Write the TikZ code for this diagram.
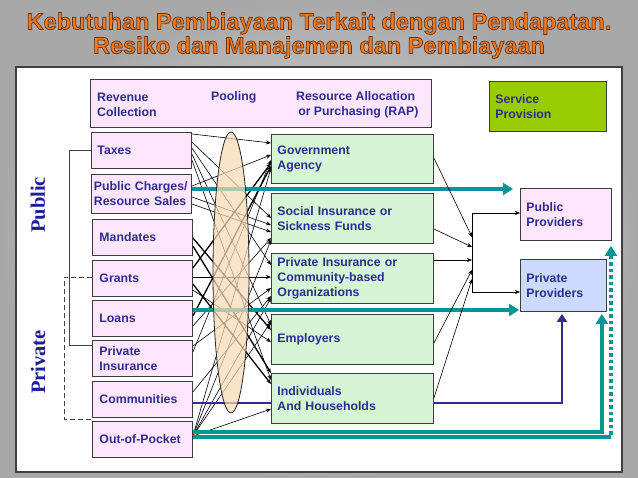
\documentclass[tikz,border=0pt]{standalone}
\usepackage{fontspec}
\setmainfont{Liberation Sans}
\newfontfamily\serifbold{Liberation Serif}
\usetikzlibrary{arrows.meta,calc}
\pgfdeclarelayer{bgzero}
\pgfdeclarelayer{background}
\pgfsetlayers{bgzero,background,main}
\definecolor{navytext}{RGB}{45,45,140}
\definecolor{labelblue}{RGB}{30,30,150}
\definecolor{pinkfill}{RGB}{255,230,255}
\definecolor{greenfill}{RGB}{214,245,214}
\definecolor{bluefill}{RGB}{204,218,255}
\definecolor{limefill}{RGB}{153,204,0}
\definecolor{tealline}{RGB}{0,150,150}
\definecolor{navyline}{RGB}{48,48,140}
\definecolor{beige}{RGB}{248,218,180}
\definecolor{titleorange}{RGB}{240,120,30}
\definecolor{boxline}{RGB}{60,60,60}
\newcommand\outlineon{\special{pdf:literal direct 0.42 0.2 0.06 RG 0.7 w 2 Tr}}
\newcommand\outlineoff{\special{pdf:literal direct 0 Tr}}
\begin{document}
\begin{tikzpicture}[x=1pt,y=-1pt,
  box/.style={draw=boxline, line width=0.9pt, anchor=north west, inner xsep=6pt, inner ysep=0pt,
    align=left, text=navytext, font=\bfseries\fontsize{12.3}{15}\selectfont},
  pbox/.style={box, fill=pinkfill, minimum width=100pt, minimum height=36pt, text width=88pt},
  gbox/.style={box, fill=greenfill, minimum width=162pt, minimum height=50pt, text width=150pt},
  hdrtext/.style={inner sep=0pt, anchor=west, align=left, text=navytext, font=\bfseries\fontsize{12.3}{15}\selectfont},
  link/.style={draw=black, line width=0.6pt, -{Stealth[length=5pt,width=4pt]}},
  thicklink/.style={link, line width=1.3pt},
  tealarrow/.style={draw=tealline, line width=3.5pt, -{Triangle[length=10pt,width=12pt]}},
  bracket/.style={draw=black!75, line width=0.8pt},
  sidelabel/.style={rotate=90, text=labelblue, font=\serifbold\bfseries\fontsize{20.5}{24}\selectfont},
  titlefont/.style={align=center, font=\bfseries\fontsize{23.5}{24}\selectfont}
]
\useasboundingbox (0,0) rectangle (638,478);

% background and panel
\begin{pgfonlayer}{bgzero}
  \shade[inner color=gray!22, outer color=gray!68] (0,0) rectangle (638,478);
  \draw[fill=white, draw=black!75, line width=1.2pt] (16,67) rectangle (622,472);
\end{pgfonlayer}

% title
\node[titlefont, text=titleorange] (title) at (319,35.5) {\outlineon Kebutuhan Pembiayaan Terkait dengan Pendapatan.\\Resiko dan Manajemen dan Pembiayaan\outlineoff};

% header
\node[box, fill=pinkfill, minimum width=341pt, minimum height=48pt] (H) at (90,79) {};
\node[hdrtext] (rc) at (97,104.5) {Revenue\\Collection};
\node[hdrtext] (pool) at (211,97) {Pooling};
\node[hdrtext] (rap) at (296,104.5) {Resource Allocation\\\,or Purchasing (RAP)};
\node[box, fill=limefill, minimum width=117pt, minimum height=50pt, text width=105pt] (SP) at (489,81) {Service\\Provision};

% left column
\node[pbox] (T) at (91,132) {Taxes};
\node[pbox, minimum height=39pt, inner xsep=2.5pt, text width=95pt] (PC) at (91,174) {Public Charges/\\Resource Sales};
\node[pbox, inner xsep=7pt, text width=86pt] (M) at (92,219) {Mandates};
\node[pbox, inner xsep=7pt, text width=86pt] (G) at (92,260) {Grants};
\node[pbox, inner xsep=7pt, text width=86pt] (L) at (92,300) {Loans};
\node[pbox, inner xsep=7pt, text width=86pt] (PI) at (92,340) {Private\\Insurance};
\node[pbox, inner xsep=7pt, text width=86pt] (C) at (92,381) {Communities};
\node[pbox, inner xsep=7pt, text width=86pt] (O) at (92,421) {Out-of-Pocket};

% middle column
\node[gbox, minimum height=49pt] (GA) at (271,134) {Government\\Agency};
\node[gbox] (SI) at (271,193) {Social Insurance or\\Sickness Funds};
\node[gbox] (PCO) at (271,253) {Private Insurance or\\Community-based\\Organizations};
\node[gbox] (E) at (271,314) {Employers};
\node[gbox] (IH) at (271,373) {Individuals\\And Households};

% right column
\node[box, fill=pinkfill, minimum width=91pt, minimum height=52pt, text width=79pt] (PP) at (520,188) {Public\\Providers};
\node[box, fill=bluefill, minimum width=86pt, minimum height=52pt, text width=74pt] (PrP) at (520,259) {Private\\Providers};

% side labels
\node[sidelabel] (pub) at (38,205) {Public};
\node[sidelabel] (priv) at (38,362) {Private};

\coordinate (J1) at (472,213);
\coordinate (J2) at (472,292);

\begin{pgfonlayer}{background}
  % brackets
  \draw[bracket] (T.west) -- ++(-22,0) |- (PI.west |- 0,345);
  \draw[bracket, dash pattern=on 5pt off 3pt] (G.west |- 0,277) -- ++(-28,0) |- (O.west |- 0,419);

  % thin flows between sources and agents
  \foreach \s/\a/\t/\b in {T/134/GA/143, T/142/SI/218, T/148/PCO/265, T/154/E/325, T/160/IH/380,
      PC/186/GA/155, PC/197/SI/225, PC/204/SI/232,
      G/277/PCO/277, G/290/E/342,
      L/326/SI/238, PI/346/PCO/288, PI/352/GA/160,
      C/392/PCO/296,
      O/436/IH/409, O/436/GA/168, O/436/SI/240, O/436/PCO/298, O/436/E/322}
    \draw[link] (\s.east |- 0,\a) -- (\t.west |- 0,\b);
  \foreach \s/\a/\t/\b in {M/238/E/330, M/246/IH/373, G/268/GA/163, G/284/IH/384, L/316/GA/166}
    \draw[thicklink] (\s.east |- 0,\a) -- (\t.west |- 0,\b);

  % teal and navy flows
  \draw[tealarrow, shorten >=7pt] (PC.east |- 0,189) -- (PP.west |- 0,189);
  \draw[tealarrow, shorten >=1pt] (L.east |- 0,310) -- (PrP.west |- 0,310);
  \draw[tealarrow, shorten >=2pt] (O.east |- 0,432) -| ([xshift=-5pt]PrP.south east);
  \draw[draw=tealline, line width=3.5pt] (O.east |- 0,437) -- ([xshift=-1pt]PP.east |- 0,437);
  \draw[draw=tealline, line width=3.5pt, dash pattern=on 3.5pt off 3pt, -{Triangle[length=10pt,width=12pt]}]
     ([xshift=-1pt]PP.east |- 0,435) -- ([xshift=-1pt,yshift=-5pt]PP.south east);
  \draw[draw=navyline, line width=2.8pt, -{Triangle[length=8pt,width=10pt]}, shorten >=2pt]
     (C.east |- 0,403) -| ([xshift=42pt]PrP.south west);

  % ellipse (pooling)
  \draw[fill=beige, fill opacity=0.72, draw=black!85, line width=0.8pt] (231,272.5) ellipse [x radius=18, y radius=140.5];

  % to providers
  \draw[link] (GA.east |- 0,158) -- (J1 |- 0,237);
  \draw[link] (SI.east |- 0,229) -- (J1 |- 0,247);
  \draw[link] (PCO.east |- 0,260) -- (J1 |- 0,260);
  \draw[link] (E.east |- 0,343) -- (J1 |- 0,270);
  \draw[link] (IH.east |- 0,398) -- (J1 |- 0,279);
  \draw[line width=0.6pt] (J1) -- (J2);
  \draw[link] (J1) -- (PP.west |- J1);
  \draw[link] (J2) -- (PrP.west |- J2);
\end{pgfonlayer}
\end{tikzpicture}
\end{document}
